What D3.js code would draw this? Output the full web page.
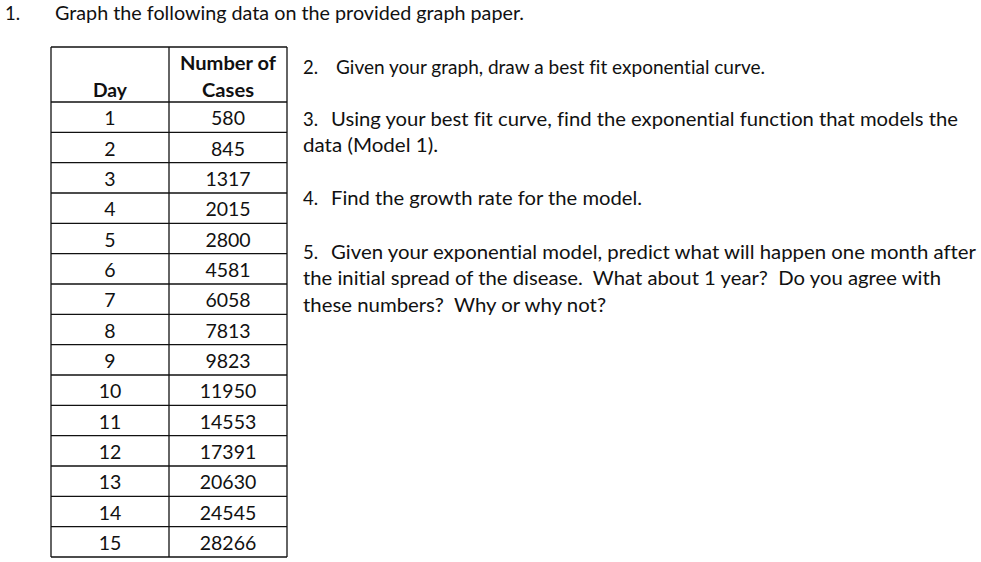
<!DOCTYPE html>
<html>
<head>
<meta charset="utf-8">
<script src="https://cdn.jsdelivr.net/npm/d3@7.9.0/dist/d3.min.js"></script>
<style>
  html, body { margin: 0; padding: 0; background: #fff; }
  svg text { font-family: Lato, "Open Sans", sans-serif; fill: #111; font-variant-ligatures: none; white-space: pre; }
</style>
</head>
<body>
<svg id="sheet" width="981" height="562"></svg>
<script>
// table data
const days = [1, 2, 3, 4, 5, 6, 7, 8, 9, 10, 11, 12, 13, 14, 15];
const cases = [580, 845, 1317, 2015, 2800, 4581, 6058, 7813, 9823, 11950, 14553, 17391, 20630, 24545, 28266];
const columns = ['Day', 'Cases'];

// worksheet text
const title = 'Graph the following data on the provided graph paper.';
const questionLines = [
  { num: '2.', text: 'Given your graph, draw a best fit exponential curve.', x: 336, w: 429, y: 74 },
  { num: '3.', text: 'Using your best fit curve, find the exponential function that models the', x: 331, w: 627, y: 126 },
  { num: '', text: 'data (Model 1).', x: 303, w: 135, y: 152 },
  { num: '4.', text: 'Find the growth rate for the model.', x: 331, w: 311, y: 205 },
  { num: '5.', text: 'Given your exponential model, predict what will happen one month after', x: 331, w: 645, y: 259 },
  { num: '', text: 'the initial spread of the disease.  What about 1 year?  Do you agree with', x: 303, w: 638, y: 285 },
  { num: '', text: 'these numbers?  Why or why not?', x: 303, w: 303, y: 312 }
];

const svg = d3.select('#sheet');
const fontSize = 18.5;
const tableFont = 19.5;

// heading
svg.append('text').attr('x', 5).attr('y', 20).attr('font-size', fontSize).text('1.');
svg.append('text').attr('x', 55).attr('y', 20).attr('font-size', fontSize)
  .attr('textLength', 469).attr('lengthAdjust', 'spacingAndGlyphs')
  .text(title);

// table
const tableTop = 47;
const headerBottom = 102;
const x = d3.scaleBand().domain(columns).range([51, 287]);
const y = d3.scaleBand().domain(days).range([headerBottom, 557]);

const table = svg.append('g');

// horizontal lines
const hLines = [tableTop, headerBottom].concat(days.map((d) => y(d) + y.bandwidth()));
table.selectAll('line.h')
  .data(hLines)
  .join('line')
  .attr('class', 'h')
  .attr('x1', x.range()[0]).attr('x2', x.range()[1])
  .attr('y1', (d) => d).attr('y2', (d) => d)
  .attr('stroke', '#111').attr('stroke-width', 1.3);

// vertical lines
const vLines = columns.map((c) => x(c)).concat([x.range()[1]]);
table.selectAll('line.v')
  .data(vLines)
  .join('line')
  .attr('class', 'v')
  .attr('x1', (d) => d).attr('x2', (d) => d)
  .attr('y1', tableTop).attr('y2', y.range()[1])
  .attr('stroke', '#111').attr('stroke-width', 1.3);

// header
const cx = (c) => x(c) + x.bandwidth() / 2;
const headers = [
  { text: 'Day', col: 'Day', y: 97, w: 34 },
  { text: 'Number of', col: 'Cases', y: 70, w: 96 },
  { text: 'Cases', col: 'Cases', y: 97, w: 52 }
];
table.selectAll('text.head')
  .data(headers)
  .join('text')
  .attr('class', 'head')
  .attr('x', (d) => cx(d.col) - d.w / 2)
  .attr('y', (d) => d.y)
  .attr('font-size', tableFont).attr('font-weight', 'bold')
  .attr('textLength', (d) => d.w).attr('lengthAdjust', 'spacingAndGlyphs')
  .text((d) => d.text);

// rows
const rows = days.map((d, i) => ({ day: d, cases: cases[i] }));
table.selectAll('text.day')
  .data(rows)
  .join('text')
  .attr('class', 'day')
  .attr('x', cx('Day'))
  .attr('y', (d) => y(d.day) + y.bandwidth() / 2 + 8)
  .attr('text-anchor', 'middle').attr('font-size', tableFont)
  .text((d) => d.day);
table.selectAll('text.cases')
  .data(rows)
  .join('text')
  .attr('class', 'cases')
  .attr('x', cx('Cases'))
  .attr('y', (d) => y(d.day) + y.bandwidth() / 2 + 8)
  .attr('text-anchor', 'middle').attr('font-size', tableFont)
  .text((d) => d.cases);

// questions
svg.selectAll('text.qn')
  .data(questionLines.filter((d) => d.num))
  .join('text')
  .attr('class', 'qn')
  .attr('x', 303)
  .attr('y', (d) => d.y)
  .attr('font-size', fontSize)
  .text((d) => d.num);
svg.selectAll('text.q')
  .data(questionLines)
  .join('text')
  .attr('class', 'q')
  .attr('x', (d) => d.x)
  .attr('y', (d) => d.y)
  .attr('font-size', fontSize)
  .attr('textLength', (d) => d.w)
  .attr('lengthAdjust', 'spacingAndGlyphs')
  .text((d) => d.text);
</script>
</body>
</html>
